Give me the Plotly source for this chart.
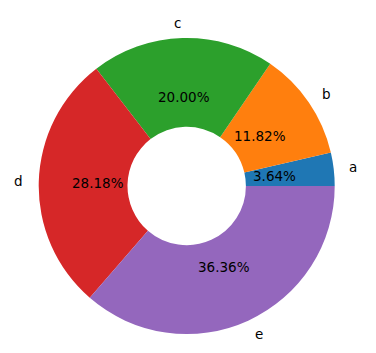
import math
import plotly.graph_objects as go

labels = ["a", "b", "c", "d", "e"]
values = [4, 13, 22, 31, 40]
colors = ["#1f77b4", "#ff7f0e", "#2ca02c", "#d62728", "#9467bd"]

W, H = 376, 353
cx, cy, R = 186.7, 186.0, 148.0  # pixel centre (from top) and radius
hole = 0.4

total = sum(values)
# plotly places the first counterclockwise slice ending at `rotation`;
# shift so the first slice starts at 3 o'clock (matplotlib startangle=0)
rot = 90 - 360 * values[0] / total

fig = go.Figure()
fig.add_trace(go.Pie(
    labels=labels, values=values, sort=False,
    direction="counterclockwise", rotation=rot,
    hole=hole, textinfo="none", hoverinfo="label+percent",
    marker=dict(colors=colors, line=dict(width=0)),
    domain=dict(x=[(cx - R) / W, (cx + R) / W],
                y=[(H - cy - R) / H, (H - cy + R) / H]),
    showlegend=False,
))

cum = 0
font = dict(family="DejaVu Sans", size=13.5, color="black")
for lab, v in zip(labels, values):
    mid = 2 * math.pi * (cum + v / 2) / total
    cum += v
    c, s = math.cos(mid), math.sin(mid)
    px, py = cx + 0.6 * R * c, cy - 0.6 * R * s
    fig.add_annotation(x=px / W, y=1 - py / H, xref="paper", yref="paper",
                       text=f"{100 * v / total:.2f}%", showarrow=False,
                       xanchor="center", yanchor="middle", font=font)
    lx, ly = cx + 1.1 * R * c, cy - 1.1 * R * s
    fig.add_annotation(x=lx / W, y=1 - ly / H, xref="paper", yref="paper",
                       text=lab, showarrow=False,
                       xanchor="left" if c > 0 else "right", yanchor="middle",
                       font=font, borderpad=0)

fig.update_layout(width=W, height=H, margin=dict(l=0, r=0, t=0, b=0),
                  paper_bgcolor="white", plot_bgcolor="white")
fig.write_html("out.html")
